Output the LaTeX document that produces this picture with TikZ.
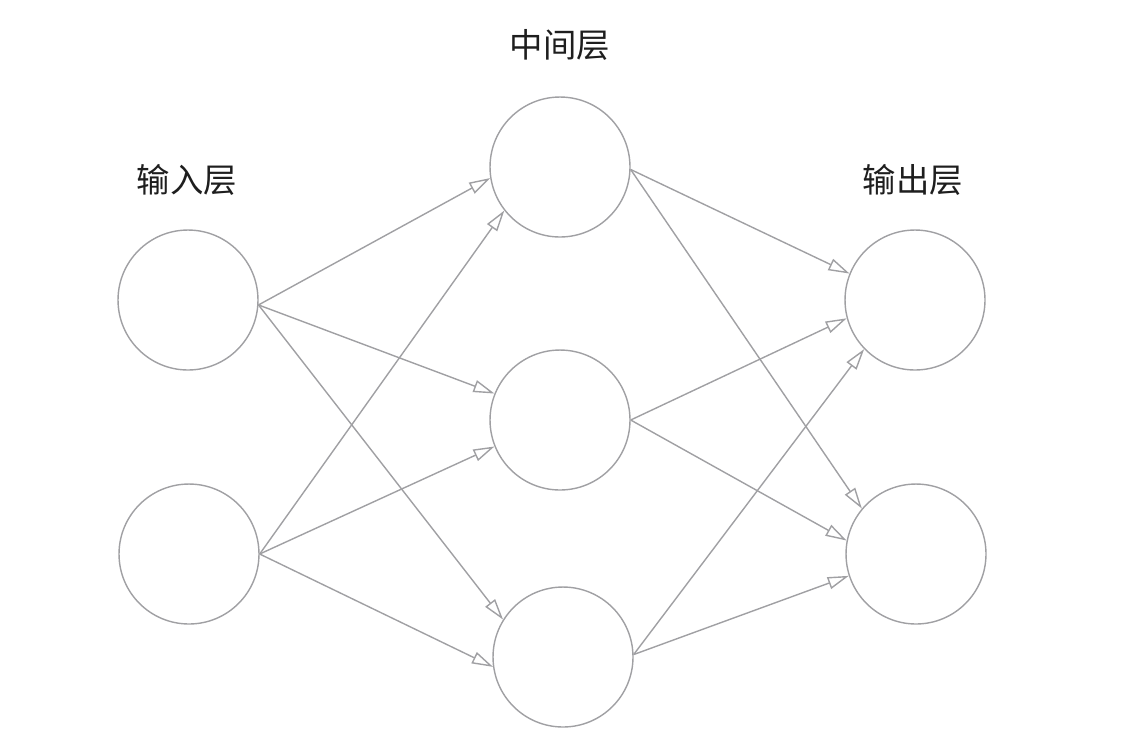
\documentclass[tikz,border=0pt]{standalone}
\usepackage{fontspec}
\newfontfamily\cjk{Noto Sans CJK SC}
\usepackage{tikz}
\usetikzlibrary{arrows.meta}
\definecolor{linegray}{RGB}{160,160,163}
\definecolor{textdark}{RGB}{30,30,30}

\begin{document}
\begin{tikzpicture}[x=0.02cm, y=-0.02cm,
    every node/.style={font=\cjk\fontsize{19}{22}\selectfont, text=textdark},
    neuron/.style={draw=linegray, line width=0.8pt, circle, minimum size=2.8cm, inner sep=0pt},
    arr/.style={-{Triangle[open, length=12pt, width=7pt]}, draw=linegray, line width=0.8pt}
]
    \useasboundingbox (0,0) rectangle (1121,752);

    % layers
    \node[neuron] (in1) at (188,300) {};
    \node[neuron] (in2) at (189,554) {};
    \node[neuron] (h1) at (560,167) {};
    \node[neuron] (h2) at (560,420) {};
    \node[neuron] (h3) at (563,657) {};
    \node[neuron] (out1) at (915,300) {};
    \node[neuron] (out2) at (916,554) {};

    \node (lin) at (187,180) {输入层};
    \node (lmid) at (560,45) {中间层};
    \node (lout) at (913,180) {输出层};

    % input -> middle
    \draw[arr] (in1.356) -- (h1.189);
    \draw[arr] (in1.356) -- (h2.158);
    \draw[arr] (in1.356) -- (h3.148);
    \draw[arr] (in2.east) -- (h1.218);
    \draw[arr] (in2.east) -- (h2.202);
    \draw[arr] (in2.east) -- (h3.188);

    % middle -> output
    \draw[arr] (h1.358) -- (out1.158);
    \draw[arr] (h1.358) -- (out2.140);
    \draw[arr] (h2.east) -- (out1.195);
    \draw[arr] (h2.east) -- (out2.169);
    \draw[arr] (h3.2) -- (out1.224);
    \draw[arr] (h3.2) -- (out2.198);
\end{tikzpicture}
\end{document}
